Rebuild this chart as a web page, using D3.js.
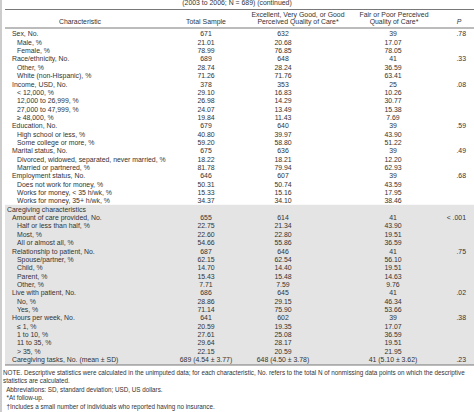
<!DOCTYPE html><html><head><meta charset="utf-8"><script src="https://cdn.jsdelivr.net/npm/d3@7"></script>
<style>body{margin:0;background:#fff}text{font-family:"Liberation Sans",Arial,sans-serif;fill:#333}</style></head><body><svg id="c" width="474" height="412"></svg>
<script>
const labels=["Sex, No.","Male, %","Female, %","Race/ethnicity, No.","Other, %","White (non-Hispanic), %","Income, USD, No.","< 12,000, %","12,000 to 26,999, %","27,000 to 47,999, %","≥ 48,000, %","Education, No.","High school or less, %","Some college or more, %","Marital status, No.","Divorced, widowed, separated, never married, %","Married or partnered, %","Employment status, No.","Does not work for money, %","Works for money, < 35 h/wk, %","Works for money, 35+ h/wk, %","Caregiving characteristics","Amount of care provided, No.","Half or less than half, %","Most, %","All or almost all, %","Relationship to patient, No.","Spouse/partner, %","Child, %","Parent, %","Other, %","Live with patient, No.","No, %","Yes, %","Hours per week, No.","≤ 1, %","1 to 10, %","11 to 35, %","> 35, %","Caregiving tasks, No. (mean ± SD)"];
const indent=[1,2,2,1,2,2,1,2,2,2,2,1,2,2,1,2,2,1,2,2,2,0,1,2,2,2,1,2,2,2,2,1,2,2,1,2,2,2,2,1];
const total=["671","21.01","78.99","689","28.74","71.26","378","29.10","26.98","24.07","19.84","679","40.80","59.20","675","18.22","81.78","646","50.31","15.33","34.37","","655","22.75","22.60","54.66","687","62.15","14.70","15.43","7.71","686","28.86","71.14","641","20.59","27.61","29.64","22.15","689 (4.54 ± 3.77)"];
const good=["632","20.68","76.85","648","28.24","71.76","353","16.83","14.29","13.49","11.43","640","39.97","58.80","636","18.21","79.94","607","50.74","15.16","34.10","","614","21.34","22.80","55.86","646","62.54","14.40","15.48","7.59","645","29.15","75.90","602","19.35","25.08","28.17","20.59","648 (4.50 ± 3.78)"];
const poor=["39","17.07","78.05","41","36.59","63.41","25","10.26","30.77","15.38","7.69","39","43.90","51.22","39","12.20","62.93","39","43.59","17.95","38.46","","41","43.90","19.51","36.59","41","56.10","19.51","14.63","9.76","41","46.34","53.66","39","17.07","36.59","19.51","21.95","41 (5.10 ± 3.62)"];
const pval=[".78","","",".33","","",".08","","","","",".59","","",".49","","",".68","","","","","< .001","","","",".75","","","","",".02","","",".38","","","","",".23"];
const notes=["NOTE. Descriptive statistics were calculated in the unimputed data; for each characteristic, No. refers to the total N of nonmissing data points on which the descriptive","statistics are calculated.","  Abbreviations: SD, standard deviation; USD, US dollars.","  *At follow-up.","  †Includes a small number of individuals who reported having no insurance."];
const svg=d3.select("#c");
const y=d3.scaleLinear().domain([0,39]).range([34,359.7]);
const fs=6.9;
const shadeTop=y(21)-4.6;
svg.append("rect").attr("x",5).attr("y",shadeTop).attr("width",469).attr("height",365-shadeTop).attr("fill","#e4e4e4");
svg.append("text").attr("x",237).attr("y",5).attr("text-anchor","middle").attr("font-size",fs).text("(2003 to 2006; N = 689) (continued)");
[9.5,28,365].forEach(v=>svg.append("line").attr("x1",5).attr("x2",474).attr("y1",v).attr("y2",v).attr("stroke","#555").attr("stroke-width",0.8));
svg.append("line").attr("x1",1).attr("x2",1).attr("y1",0).attr("y2",412).attr("stroke","#999").attr("stroke-width",1);
const hd=[[80,["Characteristic"]],[206,["Total Sample"]],[298,["Excellent, Very Good, or Good","Perceived Quality of Care*"]],[394,["Fair or Poor Perceived","Quality of Care*"]]];
hd.forEach(([x,ls])=>ls.forEach((l,i)=>svg.append("text").attr("x",x).attr("y",ls.length==1?23.5:16.5+i*7.5).attr("text-anchor","middle").attr("font-size",fs).text(l)));
svg.append("text").attr("x",459).attr("y",23.5).attr("text-anchor","middle").attr("font-size",fs).attr("font-style","italic").text("P");
const g=svg.selectAll("g.r").data(labels).join("g").attr("transform",(d,i)=>`translate(0,${y(i)+2.4})`);
g.append("text").attr("x",(d,i)=>7+indent[i]*5).attr("font-size",fs).text(d=>d);
g.append("text").attr("x",206).attr("text-anchor","middle").attr("font-size",fs).text((d,i)=>total[i]);
g.append("text").attr("x",283).attr("text-anchor","middle").attr("font-size",fs).text((d,i)=>good[i]);
g.append("text").attr("x",393).attr("text-anchor","middle").attr("font-size",fs).text((d,i)=>poor[i]);
g.append("text").attr("x",466).attr("text-anchor","end").attr("font-size",fs).text((d,i)=>pval[i]);
notes.forEach((n,i)=>svg.append("text").attr("x",3).attr("y",375+i*8.4).attr("font-size",6.3).attr("xml:space","preserve").text(n));
</script></body></html>
